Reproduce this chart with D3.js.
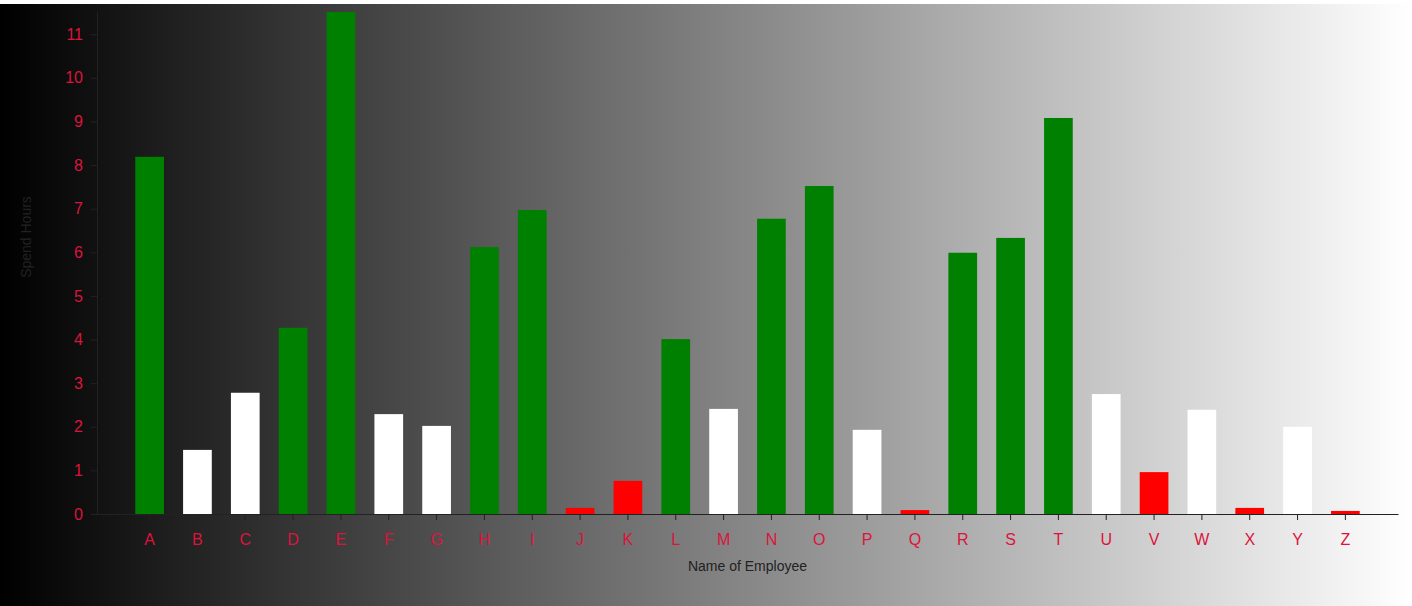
<!DOCTYPE html>
<html>
<head>
<meta charset="utf-8">
<script src="https://cdn.jsdelivr.net/npm/d3@7"></script>
<style>
  body { margin: 0; background: #fff; }
  .axis text { fill: crimson; font-size: 16px; font-family: Arial, "Liberation Sans", sans-serif; }
  .axis path, .axis line { stroke: #222; }
</style>
</head>
<body>
<svg id="chart"></svg>
<script>
// Employee names and hours spent
const names = ["A","B","C","D","E","F","G","H","I","J","K","L","M","N","O","P","Q","R","S","T","U","V","W","X","Y","Z"];
const hours = [8.19,1.47,2.78,4.27,11.51,2.29,2.02,6.12,6.97,0.14,0.76,4.01,2.41,6.77,7.52,1.93,0.09,5.99,6.33,9.08,2.75,0.96,2.39,0.14,2.0,0.07];
const yTicks = [0,1,2,3,4,5,6,7,8,9,10,11];

const width = 1412;
const height = 606;
const margin = { top: 12, right: 14, bottom: 92, left: 97 };

const svg = d3.select("#chart")
    .attr("width", width)
    .attr("height", height);

// Horizontal black-to-white background
const grad = svg.append("defs").append("linearGradient")
    .attr("id", "bg").attr("x1", "0%").attr("x2", "100%");
grad.append("stop").attr("offset", "0%").attr("stop-color", "#000");
grad.append("stop").attr("offset", "100%").attr("stop-color", "#fff");
svg.append("rect")
    .attr("y", 4)
    .attr("width", width).attr("height", height - 4)
    .attr("fill", "url(#bg)");

const data = names.map((n, i) => ({ name: n, hours: hours[i] }));

const xScale = d3.scaleBand()
    .domain(names)
    .range([margin.left, width - margin.right])
    .paddingInner(0.4)
    .paddingOuter(0.8);

const yScale = d3.scaleLinear()
    .domain([0, d3.max(hours)])
    .range([height - margin.bottom, margin.top]);

// Colour by hours: red under 1, white under 4, green otherwise
const colour = h => h < 1 ? "red" : (h < 4 ? "white" : "green");

svg.selectAll(".bar")
    .data(data)
    .enter()
    .append("rect")
    .attr("class", "bar")
    .attr("x", d => xScale(d.name))
    .attr("y", d => yScale(d.hours))
    .attr("width", xScale.bandwidth())
    .attr("height", d => yScale(0) - yScale(d.hours))
    .attr("fill", d => colour(d.hours));

// Axes
svg.append("g")
    .attr("class", "axis")
    .attr("transform", `translate(0, ${height - margin.bottom})`)
    .call(d3.axisBottom(xScale).tickSizeOuter(0).tickPadding(14));

svg.append("g")
    .attr("class", "axis")
    .attr("transform", `translate(${margin.left}, 0)`)
    .call(d3.axisLeft(yScale).tickValues(yTicks).tickFormat(d3.format("d")).tickSizeOuter(0).tickPadding(8));

// Axis titles
svg.append("text")
    .attr("x", (margin.left + width - margin.right) / 2)
    .attr("y", 571)
    .attr("text-anchor", "middle")
    .style("font-family", "Arial, 'Liberation Sans', sans-serif")
    .style("font-size", "14px")
    .style("fill", "#222")
    .text("Name of Employee");

svg.append("text")
    .attr("transform", "translate(31, 237) rotate(-90)")
    .attr("text-anchor", "middle")
    .style("font-family", "Arial, 'Liberation Sans', sans-serif")
    .style("font-size", "14px")
    .style("fill", "#222")
    .text("Spend Hours");
</script>
</body>
</html>
